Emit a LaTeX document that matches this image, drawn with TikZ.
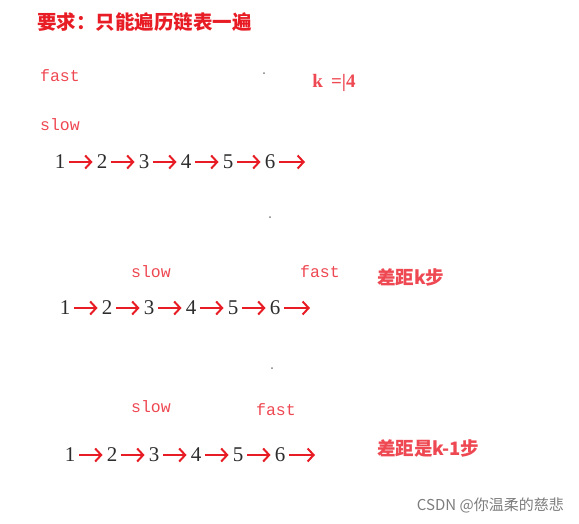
\documentclass[tikz,border=0pt]{standalone}
\usepackage{fontspec}
\setmainfont{Liberation Serif}
\newfontfamily\cjk{Noto Sans CJK SC}
\newfontfamily\monof{Liberation Mono}
\usetikzlibrary{positioning,arrows.meta}

\definecolor{arrred}{RGB}{232,28,36}
\definecolor{txtred}{RGB}{238,72,82}
\definecolor{numgray}{RGB}{45,45,45}
\definecolor{wmgray}{RGB}{125,125,125}

\begin{document}
\begin{tikzpicture}[x=1pt,y=-1pt,
	num/.style={inner sep=1pt,text=numgray,font=\fontsize{21}{21}\selectfont},
	lnk/.style={draw=arrred,line width=2pt,shorten <=3pt,shorten >=3pt,
		-{Straight Barb[length=6pt,width=13pt,line width=2pt]}},
	ptr/.style={inner sep=0pt,text=txtred,font=\monof\fontsize{16.5}{16.5}\selectfont},
	note/.style={inner sep=0pt,anchor=west,text=txtred,font=\cjk\bfseries\fontsize{18.5}{18.5}\selectfont}]
\useasboundingbox (0,0) rectangle (579,523);

\node[note,text=arrred,font=\cjk\bfseries\fontsize{19.5}{19.5}\selectfont] (req) at (37,22) {要求：只能遍历链表一遍};

\node[ptr] (fast0) at (60,76) {fast};
\node[ptr] (slow0) at (60,125) {slow};
\node[inner sep=0pt,text=txtred,font=\bfseries\fontsize{19}{19}\selectfont] (kval) at (334,83) {k\hspace{8pt}=|4};

% the three lists
\foreach \row/\x/\y in {a/60/162,b/65/308,c/70/455}{
	\foreach \i in {1,...,6}
		\node[num] (\row\i) at ({\x+42*(\i-1)},\y) {\i};
	\coordinate (\row7) at ({\x+248},\y);
	\foreach \i [count=\j from 2] in {1,...,6}
		\draw[lnk] (\row\i) -- (\row\j);
}

\node[ptr] (slow1) at (151,272) {slow};
\node[ptr] (fast1) at (320,272) {fast};
\node[note] (gap1) at (377,277) {差距k步};

\node[ptr] (slow2) at (151,407) {slow};
\node[ptr] (fast2) at (276,410) {fast};
\node[note] (gap2) at (377,448) {差距是k-1步};

\foreach \x/\y in {264/73,270/217,272/368}
	\fill[wmgray] (\x,\y) circle (1pt);

\node[anchor=east,inner sep=0pt,text=wmgray,font=\cjk\fontsize{15}{15}\selectfont] (wm) at (564,505) {CSDN @你温柔的慈悲};
\end{tikzpicture}
\end{document}
